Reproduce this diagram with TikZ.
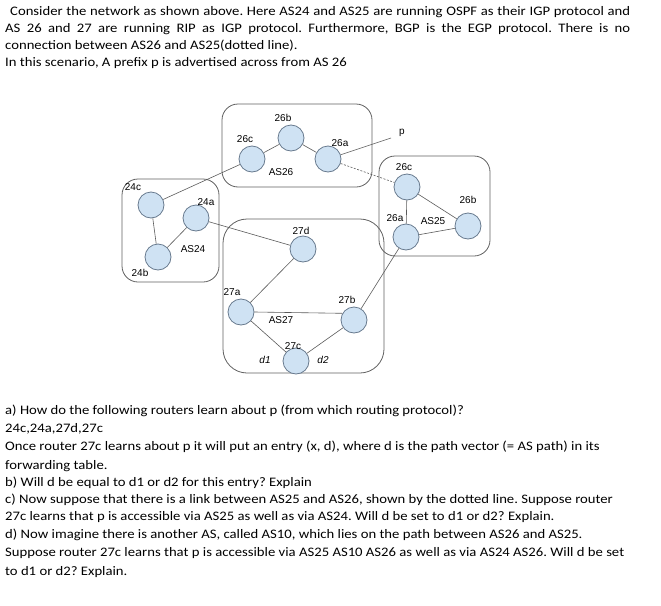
\documentclass[tikz,border=0pt]{standalone}
\usepackage{fontspec}
\setmainfont{Carlito}[FakeStretch=1.13]
\newfontfamily\labfont{Liberation Sans}
\definecolor{nodefill}{HTML}{CFE2F3}
\definecolor{nodeedge}{HTML}{687A8E}
\definecolor{boxedge}{HTML}{606060}
\definecolor{linkcol}{HTML}{5A5A5A}
\frenchspacing
\begin{document}
\begin{tikzpicture}[x=1pt,y=-1pt,
  router/.style={circle,draw=nodeedge,fill=nodefill,line width=0.8pt,minimum size=26pt,inner sep=0pt},
  asbox/.style={draw=boxedge,line width=0.8pt,rounded corners=16pt},
  lab/.style={font=\labfont\fontsize{10}{11}\selectfont,inner sep=0pt},
  dlab/.style={font=\labfont\itshape\fontsize{10}{11}\selectfont,inner sep=0pt},
  link/.style={draw=linkcol,line width=0.6pt},
  txt/.style={anchor=base west,inner sep=0pt,font=\fontsize{13}{15}\selectfont}]
\useasboundingbox (0,0) rectangle (661,605);
% boxes
\draw[asbox] (222,104) rectangle (372,187);
\draw[asbox] (379,156) rectangle (490,256);
\draw[asbox] (122,179) rectangle (219,282);
\draw[asbox,rounded corners=24pt] (223,219) rectangle (384,373);
% AS26
\node[router] (a26c) at (252,159) {};
\node[router] (a26b) at (291,138) {};
\node[router] (a26a) at (328,159) {};
\node[lab] at (245,139) {26c};
\node[lab] at (283,118) {26b};
\node[lab] at (340,143) {26a};
\node[lab] at (281,172) {AS26};
\node[font=\labfont\fontsize{10}{11}\selectfont,inner sep=0pt] (p) at (402,133) {p};
\coordinate (pend) at (391,138);
% AS25
\node[router] (b26c) at (407,187) {};
\node[router] (b26b) at (468,226) {};
\node[router] (b26a) at (406,237) {};
\node[lab] at (404,167) {26c};
\node[lab] at (468,200) {26b};
\node[lab] at (395,218) {26a};
\node[lab] at (433,221) {AS25};
% AS24
\node[router] (c24c) at (151,205) {};
\node[router] (c24a) at (196,218) {};
\node[router] (c24b) at (158,257) {};
\node[lab] at (133,187) {24c};
\node[lab] at (206,202) {24a};
\node[lab] at (193,249) {AS24};
\node[lab] at (140,273) {24b};
% AS27
\node[router] (d27d) at (303,249) {};
\node[router] (d27a) at (241,312) {};
\node[router] (d27b) at (354,320) {};
\node[router] (d27c) at (296,361) {};
\node[lab] at (301,231) {27d};
\node[lab] at (232,292) {27a};
\node[lab] at (347,300) {27b};
\node[lab] at (281,320) {AS27};
\node[lab] at (293,346) {27c};
\node[dlab] at (265,360) {d1};
\node[dlab] at (323,360) {d2};
% links
\draw[link] (a26c) -- (a26b);
\draw[link] (a26b) -- (a26a);
\draw[link] (a26a) -- (pend);
\draw[link,dashed,dash pattern=on 2pt off 1.5pt] (a26a) -- (b26c);
\draw[link] (a26c) -- (c24c);
\draw[link] (b26c) -- (b26a);
\draw[link] (b26c) -- (b26b);
\draw[link] (b26a) -- (b26b);
\draw[link] (c24c) -- (c24b);
\draw[link] (c24b) -- (c24a);
\draw[link] (c24a) -- (d27d);
\draw[link] (d27d) -- (d27a);
\draw[link] (d27a.east) -- (d27b.150);
\draw[link] (d27a) -- (d27c);
\draw[link] (d27c) -- (d27b);
\draw[link] (d27b) -- (b26a);
% text
\node[txt] at (10,15) {\makebox[620pt][s]{Consider the network as shown above. Here AS24 and AS25 are running OSPF as their IGP protocol and}};
\node[txt] at (5,32) {\makebox[625pt][s]{AS 26 and 27 are running RIP as IGP protocol. Furthermore, BGP is the EGP protocol. There is no}};
\node[txt] at (5,49) {connection between AS26 and AS25(dotted line).};
\node[txt] at (5,66) {In this scenario, A prefix p is advertised across from AS 26};
\node[txt] at (5,414) {a) How do the following routers learn about p (from which routing protocol)?};
\node[txt] at (5,432) {24c,24a,27d,27c};
\node[txt] at (5,450) {Once router 27c learns about p it will put an entry (x, d), where d is the path vector (= AS path) in its};
\node[txt] at (5,469) {forwarding table.};
\node[txt] at (5,486) {b) Will d be equal to d1 or d2 for this entry? Explain};
\node[txt] at (5,503) {c) Now suppose that there is a link between AS25 and AS26, shown by the dotted line. Suppose router};
\node[txt] at (5,520) {27c learns that p is accessible via AS25 as well as via AS24. Will d be set to d1 or d2? Explain.};
\node[txt] at (5,538) {d) Now imagine there is another AS, called AS10, which lies on the path between AS26 and AS25.};
\node[txt] at (5,556) {Suppose router 27c learns that p is accessible via AS25 AS10 AS26 as well as via AS24 AS26. Will d be set};
\node[txt] at (5,575) {to d1 or d2? Explain.};
\end{tikzpicture}
\end{document}
